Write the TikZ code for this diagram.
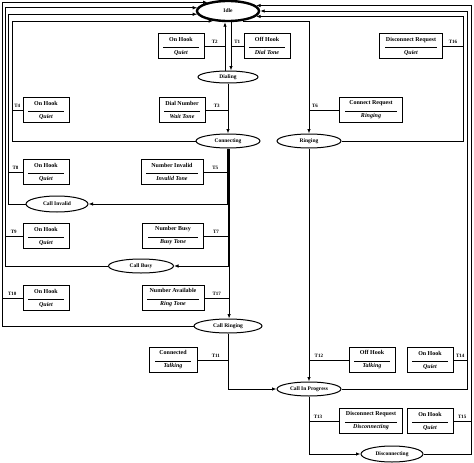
\documentclass[tikz,border=0pt]{standalone}
\usepackage{fontspec}
\setmainfont{Liberation Serif}
\usetikzlibrary{arrows.meta,shapes.geometric}
\tikzset{
  state/.style={draw,ellipse,line width=1pt,minimum width=62pt,minimum height=14pt,
    inner sep=0pt,font=\fontsize{5.5}{6}\selectfont\bfseries},
  tbox/.style={draw,line width=1pt,minimum width=46pt,minimum height=25pt,inner sep=1pt,
    align=center,font=\fontsize{6}{7}\selectfont\bfseries},
  widebox/.style={tbox,minimum width=63pt},
  tlab/.style={font=\fontsize{5}{5}\selectfont\bfseries,inner sep=1pt},
  trans/.style={line width=0.8pt},
  go/.style={trans,-{Latex[length=4.5pt,width=3.5pt]}}
}
\newcommand{\evact}[3][36pt]{#2\\[-0.5pt]\rule{#1}{0.6pt}\\[-0.5pt]\textit{#3}}

\begin{document}
\begin{tikzpicture}[x=1pt,y=-1pt]
  \useasboundingbox (0,0) rectangle (474,463);
  \coordinate (lrailA) at (2,0);
  \coordinate (lrailB) at (5,0);
  \coordinate (lrailC) at (8.5,0);
  \coordinate (lrailD) at (12,0);
  \coordinate (rrailA) at (463,0);
  \coordinate (rrailB) at (467,0);
  \coordinate (rrailC) at (471,0);

  % states
  \node[state,line width=2.4pt,minimum height=20pt] (idle) at (228,11) {Idle};
  \node[state,minimum width=60pt,minimum height=12pt] (dialing) at (228,77) {Dialing};
  \node[state,minimum width=64pt] (connecting) at (228,141) {Connecting};
  \node[state,minimum width=64pt] (ringing) at (309,141) {Ringing};
  \node[state,minimum height=16pt] (callinvalid) at (57,204) {Call Invalid};
  \node[state,minimum width=65pt] (callbusy) at (141,266) {Call Busy};
  \node[state,minimum width=68pt] (callringing) at (228,326) {Call Ringing};
  \node[state,minimum width=64pt] (callprog) at (309,389) {Call In Progress};
  \node[state,minimum height=16pt] (disconnecting) at (392,454) {Disconnecting};

  \coordinate (dialdown) at ([xshift=3pt]dialing.north);
  \coordinate (dialup) at ([xshift=-3pt]dialing.north);
  \coordinate (connA) at ([xshift=-1.1pt]connecting.south);
  \coordinate (connB) at (connecting.south);
  \coordinate (connC) at ([xshift=1.1pt]connecting.south);

  % transitions
  \draw[go] (dialdown |- idle.south) -- (dialdown);
  \draw[go] (dialup) -- (dialup |- idle.south);
  \draw[go] (dialing.south) -- (connecting.north);
  \draw[go] (connecting.west) -- (connecting.west -| lrailD) -- (idle.214 -| lrailD) -- (idle.214);
  \draw[go] (connA) |- (callinvalid.east);
  \draw[go] (connB) |- (callbusy.east);
  \draw[go] (connC) -- (connC |- callringing.north);
  \draw[go] (callinvalid.west) -- (callinvalid.west -| lrailC) -- (idle.186 -| lrailC) -- (idle.186);
  \draw[go] (callbusy.west) -- (callbusy.west -| lrailB) -- (idle.174 -| lrailB) -- (idle.174);
  \draw[go] (callringing.west) -- (callringing.west -| lrailA) -- (idle.157 -| lrailA) -- (idle.157);
  \draw[go] (idle.326) -| (ringing.north);
  \draw[go] (ringing.east) -- (ringing.east -| rrailA) -- (idle.349 -| rrailA) -- (idle.349);
  \draw[go] (ringing.south) -- (callprog.north);
  \draw[go] (callringing.south) |- (callprog.west);
  \draw[go] (callprog.east) -- (callprog.east -| rrailB) -- (idle.east -| rrailB) -- (idle.east);
  \draw[go] (callprog.south) |- (disconnecting.west);
  \draw[go] (disconnecting.east) -- (disconnecting.east -| rrailC) -- (idle.11 -| rrailC) -- (idle.11);

  % event / action boxes
  \node[tbox] (hangdial) at (181,46) {\evact{On Hook}{Quiet}};
  \node[tbox] (offhook) at (267,46) {\evact{Off Hook}{Dial Tone}};
  \node[widebox] (discquiet) at (411,46) {\evact[52pt]{Disconnect Request}{Quiet}};
  \node[tbox] (hangconn) at (46,110) {\evact{On Hook}{Quiet}};
  \node[tbox] (dialnum) at (182,110) {\evact{Dial Number}{Wait Tone}};
  \node[widebox] (connreq) at (371,110) {\evact[52pt]{Connect Request}{Ringing}};
  \node[tbox] (hanginv) at (46,172) {\evact{On Hook}{Quiet}};
  \node[widebox,minimum width=62pt] (numinvalid) at (172,172) {\evact[52pt]{Number Invalid}{Invalid Tone}};
  \node[tbox] (hangbusy) at (46,236) {\evact{On Hook}{Quiet}};
  \node[widebox,minimum width=61pt] (numbusy) at (173,236) {\evact[50pt]{Number Busy}{Busy Tone}};
  \node[tbox] (hangring) at (46,298) {\evact{On Hook}{Quiet}};
  \node[widebox,minimum width=62pt] (numavail) at (173,298) {\evact[52pt]{Number Available}{Ring Tone}};
  \node[tbox,minimum width=48pt] (connected) at (173,360) {\evact{Connected}{Talking}};
  \node[tbox] (answer) at (372,360) {\evact{Off Hook}{Talking}};
  \node[tbox] (hangprog) at (430,360) {\evact{On Hook}{Quiet}};
  \node[widebox] (discreq) at (371,421) {\evact[52pt]{Disconnect Request}{Disconnecting}};
  \node[tbox] (hangdisc) at (430,421) {\evact{On Hook}{Quiet}};

  \draw[trans] (hangdial.east) -- node[tlab,above=1.5pt]{T2} (hangdial.east -| dialup);
  \draw[trans] (offhook.west) -- node[tlab,above=1.5pt]{T1} (offhook.west -| dialdown);
  \draw[trans] (discquiet.east) -- node[tlab,above=1.5pt]{T16} (discquiet.east -| rrailA);
  \draw[trans] (hangconn.west) -- node[tlab,above=1.5pt]{T4} (hangconn.west -| lrailD);
  \draw[trans] (dialnum.east) -- node[tlab,above=1.5pt]{T3} (dialnum.east -| dialing.south);
  \draw[trans] (connreq.west -| ringing.north) -- node[tlab,above=1.5pt,pos=0.2]{T6} (connreq.west);
  \draw[trans] (hanginv.west) -- node[tlab,above=1.5pt]{T8} (hanginv.west -| lrailC);
  \draw[trans] (numinvalid.east) -- node[tlab,above=1.5pt]{T5} (numinvalid.east -| connA);
  \draw[trans] (hangbusy.west) -- node[tlab,above=1.5pt]{T9} (hangbusy.west -| lrailB);
  \draw[trans] (numbusy.east) -- node[tlab,above=1.5pt]{T7} (numbusy.east -| connB);
  \draw[trans] (hangring.west) -- node[tlab,above=1.5pt]{T10} (hangring.west -| lrailA);
  \draw[trans] (numavail.east) -- node[tlab,above=1.5pt]{T17} (numavail.east -| connC);
  \draw[trans] (connected.east) -- node[tlab,above=1.5pt,pos=0.6]{T11} (connected.east -| callringing.south);
  \draw[trans] (answer.west -| ringing.south) -- node[tlab,above=1.5pt,pos=0.25]{T12} (answer.west);
  \draw[trans] (hangprog.east) -- node[tlab,above=1.5pt]{T14} (hangprog.east -| rrailB);
  \draw[trans] (discreq.west -| callprog.south) -- node[tlab,above=1.5pt,pos=0.3]{T13} (discreq.west);
  \draw[trans] (hangdisc.east) -- node[tlab,above=1.5pt]{T15} (hangdisc.east -| rrailC);
\end{tikzpicture}
\end{document}
